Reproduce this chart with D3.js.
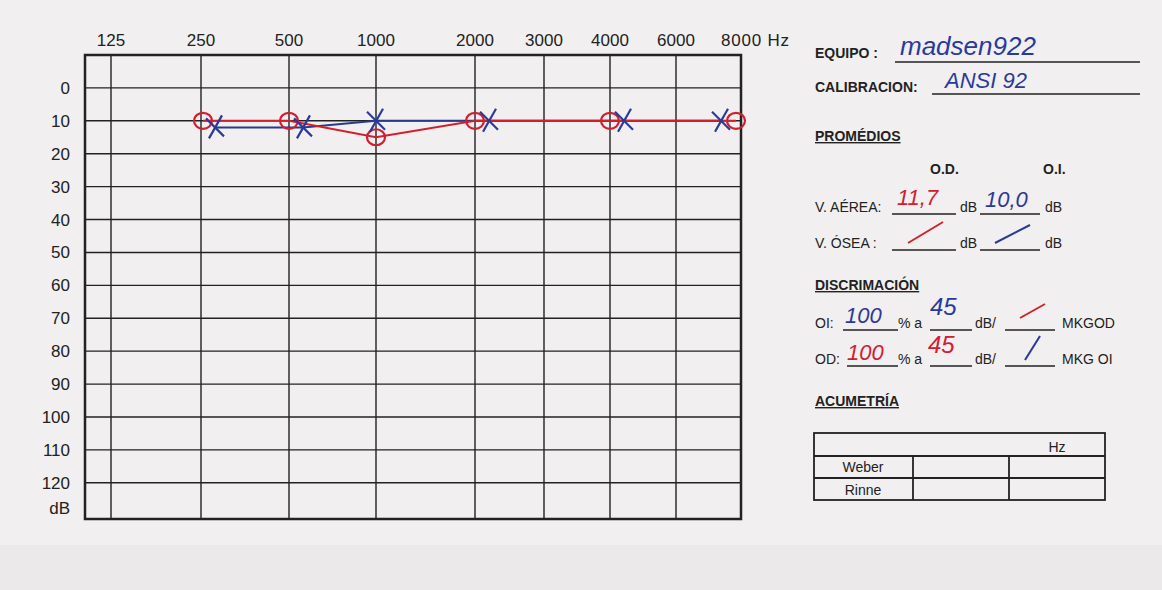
<!DOCTYPE html>
<html><head><meta charset="utf-8">
<script src="https://cdn.jsdelivr.net/npm/d3@7"></script>
<style>body{margin:0;background:#ebe9e9}text{font-family:"Liberation Sans",Arial,sans-serif}</style>
</head><body><svg id="c" width="1162" height="590"></svg>
<script>
const freqTicks=[125,250,500,1000,2000,3000,4000,6000,8000];
const freqLabels=["125","250","500","1000","2000","3000","4000","6000","8000 Hz"];
const dbTicks=[0,10,20,30,40,50,60,70,80,90,100,110,120];
const rightFreqs=[250,500,1000,2000,4000,8000];
const rightDb=[10,10,15,10,10,10];
const leftFreqs=[250,500,1000,2000,4000,8000];
const leftDb=[12,12,10,10,10,10];

const svg=d3.select("#c");
svg.append("rect").attr("width",1162).attr("height",590).attr("fill","#ebe9e9");
svg.append("rect").attr("x",0).attr("y",0).attr("width",1162).attr("height",545).attr("fill","#f1efef");
const x=d3.scaleLog().domain(freqTicks).range([111,201,289,376,475,544,610,676,741]);
const y=d3.scaleLinear().domain([-10,131]).range([55,519]);
const g=svg.append("g");
g.selectAll(".v").data(freqTicks.slice(0,-1)).join("line")
 .attr("x1",d=>x(d)).attr("x2",d=>x(d)).attr("y1",y(-10)).attr("y2",y(131)).attr("stroke","#222").attr("stroke-width",1.4);
g.selectAll(".h").data(dbTicks).join("line")
 .attr("x1",85).attr("x2",741).attr("y1",d=>y(d)).attr("y2",d=>y(d)).attr("stroke","#222").attr("stroke-width",1.4);
g.append("rect").attr("x",85).attr("y",y(-10)).attr("width",741-85).attr("height",y(131)-y(-10)).attr("fill","none").attr("stroke","#222").attr("stroke-width",2.5);
g.selectAll(".fl").data(freqTicks).join("text").attr("x",(d,i)=>i==8?x(d)+14:x(d)).attr("y",46).attr("text-anchor","middle").attr("font-size",17).attr("fill","#222").attr("textLength",(d,i)=>i==8?68:null).text((d,i)=>freqLabels[i]);
g.selectAll(".dl").data(dbTicks).join("text").attr("x",70).attr("y",d=>y(d)+6).attr("text-anchor","end").attr("font-size",17).attr("fill","#222").text(d=>d);
g.append("text").attr("x",70).attr("y",514).attr("text-anchor","end").attr("font-size",17).attr("fill","#222").text("dB");
const line=d3.line().x(d=>d[0]).y(d=>d[1]);
const R=rightFreqs.map((f,i)=>[x(f)+(i==0?2:i==5?-5:0),y(rightDb[i])]);
const L=leftFreqs.map((f,i)=>[x(f)+(i==2?0:i==5?-20:14),y(leftDb[i])]);
g.append("path").attr("d",line(L)).attr("fill","none").attr("stroke","#2a3a8a").attr("stroke-width",2);
g.append("path").attr("d",line(R)).attr("fill","none").attr("stroke","#d02030").attr("stroke-width",2);
g.selectAll(".o").data(R).join("ellipse").attr("cx",d=>d[0]).attr("cy",d=>d[1]).attr("rx",9).attr("ry",8).attr("fill","none").attr("stroke","#d02030").attr("stroke-width",2.2);
const xs=g.selectAll(".x").data(L).join("g").attr("transform",d=>`translate(${d[0]},${d[1]})`);
xs.append("line").attr("x1",-9).attr("y1",-9).attr("x2",9).attr("y2",9).attr("stroke","#2a3a9a").attr("stroke-width",2.2);
xs.append("line").attr("x1",7).attr("y1",-12).attr("x2",-6).attr("y2",11).attr("stroke","#2a3a9a").attr("stroke-width",2.2);
const f=svg.append("g").attr("font-size",15).attr("fill","#222");
function t(x0,y0,s,o={}){const e=f.append("text").attr("x",x0).attr("y",y0).text(s).attr("font-weight",o.b?"bold":"normal");if(o.size)e.attr("font-size",o.size);if(o.u)e.attr("text-decoration","underline");if(o.c)e.attr("fill",o.c).attr("font-style","italic").attr("font-family","DejaVu Sans");if(o.a)e.attr("text-anchor",o.a);return e;}
function u(x1,x2,y0){f.append("line").attr("x1",x1).attr("x2",x2).attr("y1",y0).attr("y2",y0).attr("stroke","#222").attr("stroke-width",1.3);}
t(815,58,"EQUIPO :",{b:1,size:14});u(895,1140,62);t(900,55,"madsen922",{c:"#2a3a9a",size:26});
t(815,92,"CALIBRACION:",{b:1,size:14});u(932,1140,94);t(945,88,"ANSI 92",{c:"#2a3a9a",size:22});
t(815,141,"PROMÉDIOS",{b:1,size:14,u:1});
t(930,174,"O.D.",{b:1,size:14});t(1043,174,"O.I.",{b:1,size:14});
t(815,212,"V. AÉREA:",{size:14});u(892,956,214);t(960,212,"dB",{size:14});u(980,1040,214);t(1045,212,"dB",{size:14});
t(897,205,"11,7",{c:"#d02030",size:22});t(985,207,"10,0",{c:"#2a3a9a",size:22});
t(815,248,"V. ÓSEA :",{size:14});u(892,956,250);t(960,248,"dB",{size:14});u(980,1040,250);t(1045,248,"dB",{size:14});
f.append("line").attr("x1",908).attr("y1",243).attr("x2",943).attr("y2",222).attr("stroke","#d02030").attr("stroke-width",2);
f.append("line").attr("x1",995).attr("y1",243).attr("x2",1030).attr("y2",225).attr("stroke","#2a3a9a").attr("stroke-width",2);
t(815,290,"DISCRIMACIÓN",{b:1,size:14,u:1});
t(815,328,"OI:",{size:14});u(843,898,330);t(898,328,"% a",{size:14});u(930,972,330);t(975,328,"dB/",{size:14});u(1005,1055,330);t(1062,328,"MKGOD",{size:14});
t(845,323,"100",{c:"#2a3a9a",size:22});t(930,315,"45",{c:"#2a3a9a",size:24});
f.append("line").attr("x1",1020).attr("y1",318).attr("x2",1045).attr("y2",304).attr("stroke","#d02030").attr("stroke-width",2);
t(815,364,"OD:",{size:14});u(847,898,366);t(898,364,"% a",{size:14});u(930,972,366);t(975,364,"dB/",{size:14});u(1005,1055,366);t(1062,364,"MKG OI",{size:14});
t(847,360,"100",{c:"#d02030",size:22});t(928,353,"45",{c:"#d02030",size:24});
f.append("line").attr("x1",1025).attr("y1",360).attr("x2",1040).attr("y2",336).attr("stroke","#2a3a9a").attr("stroke-width",2);
t(815,406,"ACUMETRÍA",{b:1,size:14,u:1});
const tb=f.append("g").attr("fill","none").attr("stroke","#222").attr("stroke-width",1.8);
tb.append("rect").attr("x",814).attr("y",433).attr("width",291).attr("height",67);
tb.append("line").attr("x1",814).attr("x2",1105).attr("y1",456).attr("y2",456);
tb.append("line").attr("x1",814).attr("x2",1105).attr("y1",478).attr("y2",478);
tb.append("line").attr("x1",913).attr("x2",913).attr("y1",456).attr("y2",500);
tb.append("line").attr("x1",1009).attr("x2",1009).attr("y1",456).attr("y2",500);
t(1057,452,"Hz",{size:14,a:"middle"});t(863,472,"Weber",{size:14,a:"middle"});t(863,495,"Rinne",{size:14,a:"middle"});
</script></body></html>
